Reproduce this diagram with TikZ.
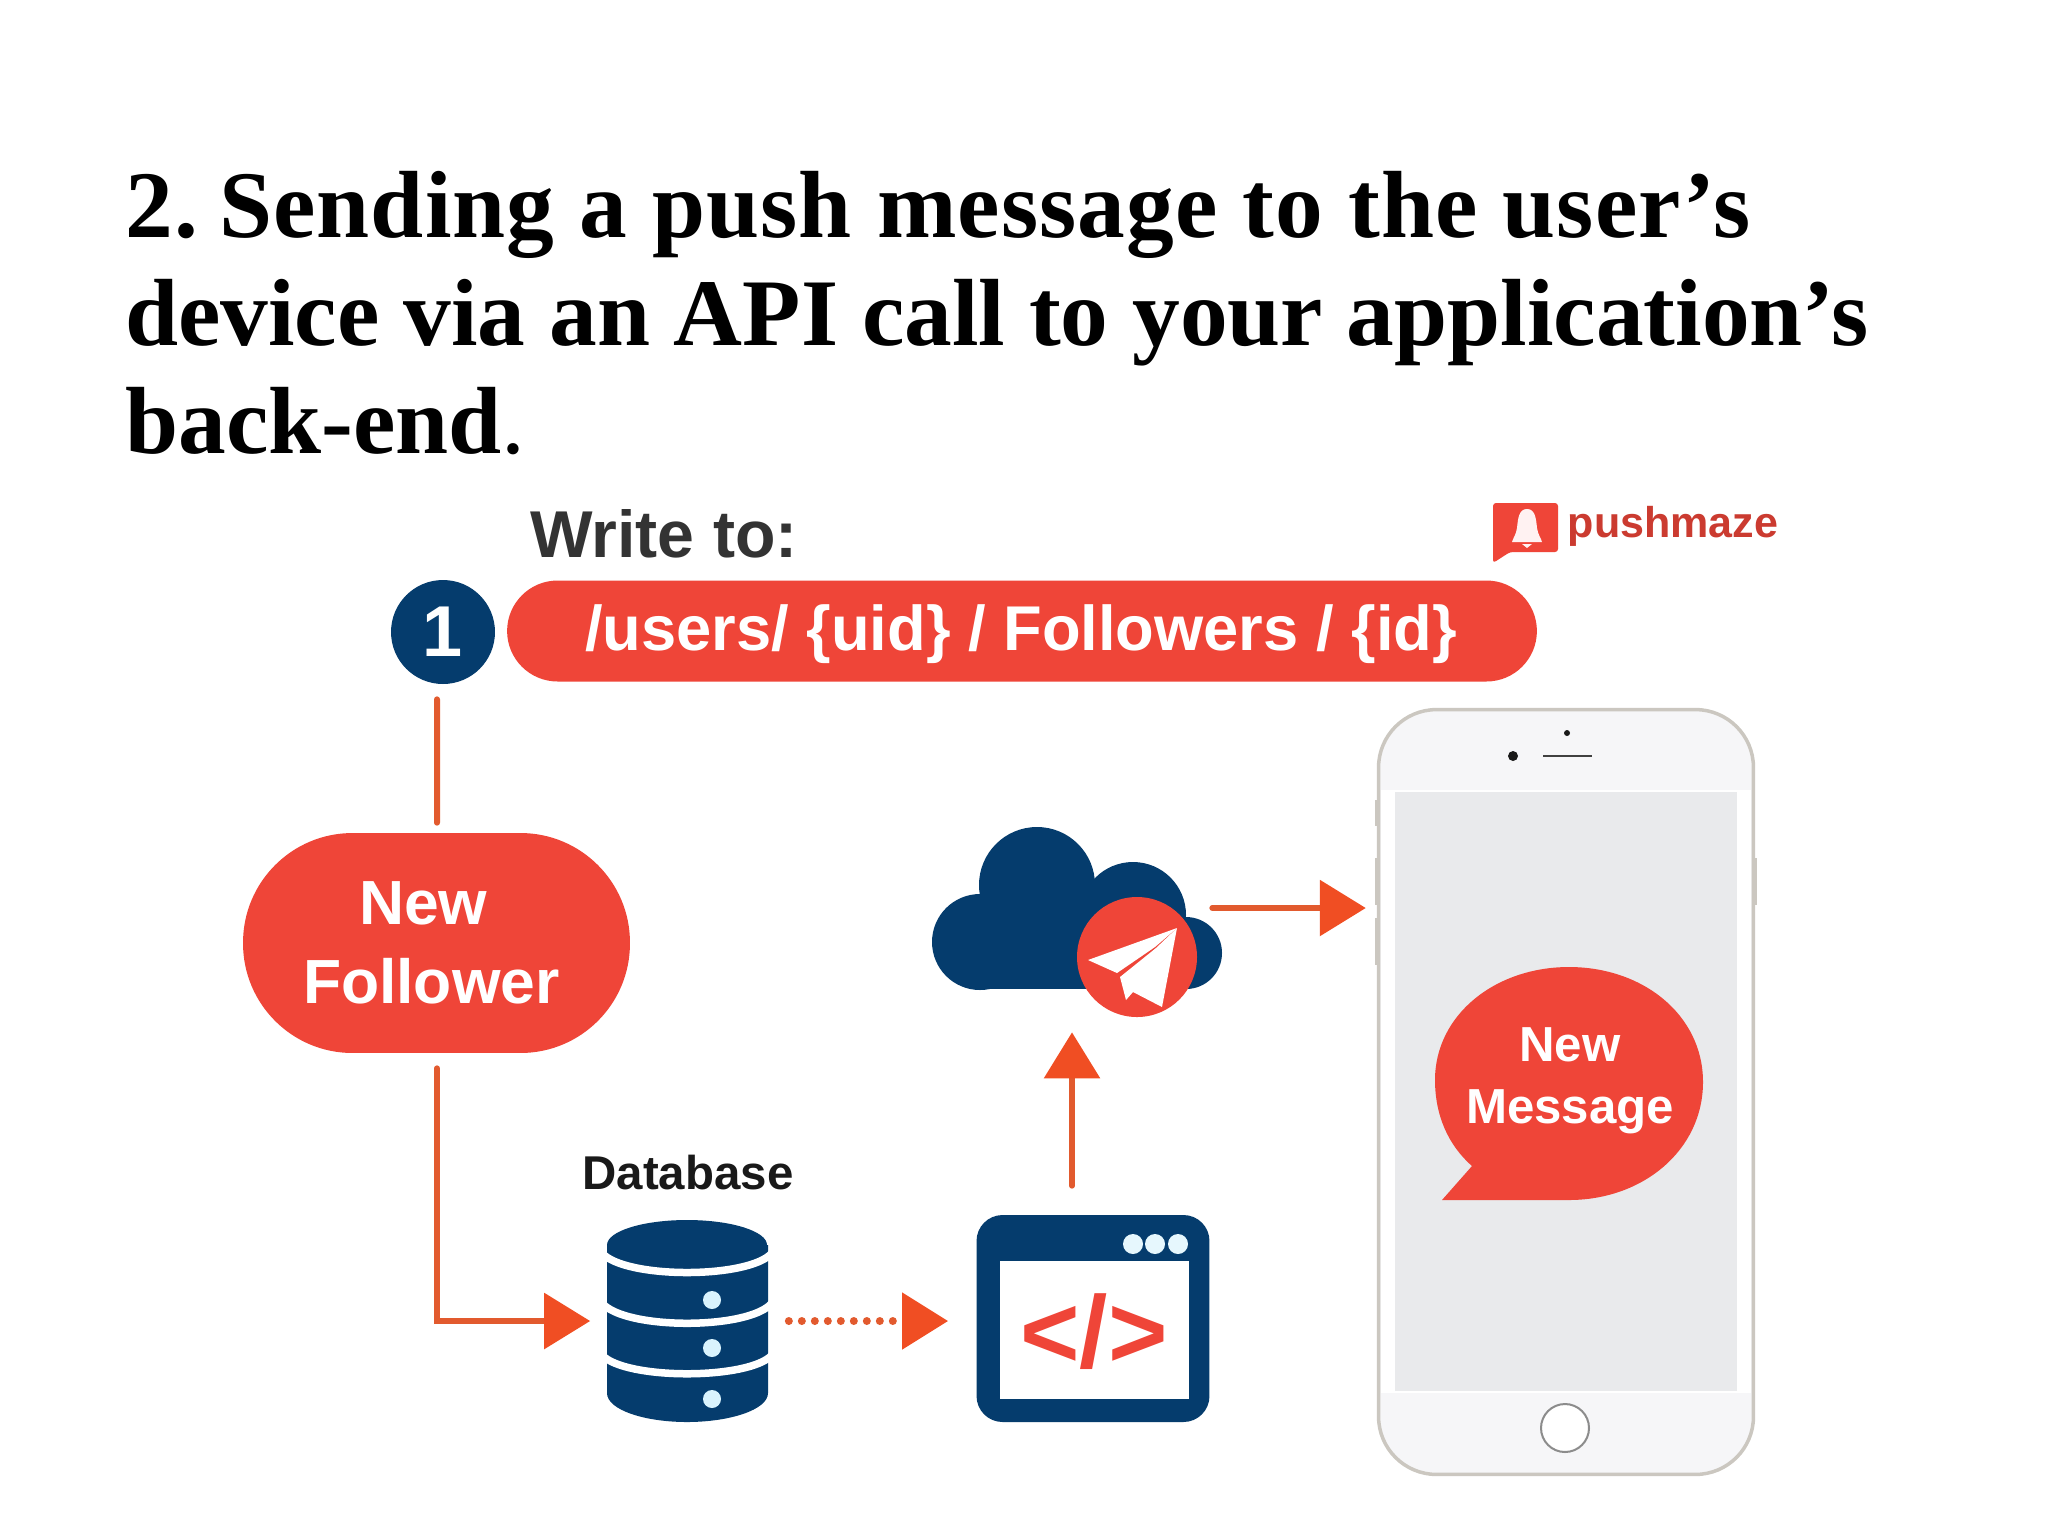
\documentclass[tikz,border=0pt]{standalone}
\usepackage{fontspec}
\setmainfont{Liberation Serif}
\setsansfont{Liberation Sans}
\usetikzlibrary{arrows.meta,calc}
\definecolor{navy}{HTML}{053C6D}
\definecolor{redfill}{HTML}{EF4538}
\definecolor{headcol}{HTML}{F04E23}
\definecolor{linecol}{HTML}{E25A2E}
\definecolor{screen}{HTML}{E9EAEC}
\definecolor{bezel}{HTML}{F6F6F8}
\definecolor{edge}{HTML}{CBC7C0}
\tikzset{
  px/.style={x=0.02cm,y=-0.02cm},
  conn/.style={draw=linecol,line width=0.12cm,line cap=round,
    -{Triangle[length=0.92cm,width=1.1cm,fill=headcol,color=headcol]}},
  plain/.style={draw=linecol,line width=0.12cm,line cap=round},
  dotconn/.style={conn,line width=0.16cm,dash pattern=on 0pt off 0.26cm},
  pillbox/.style={fill=redfill,text=white,inner sep=0pt,font=\sffamily\bfseries},
  label/.style={inner sep=0pt,font=\sffamily\bfseries},
  area/.style={inner sep=0pt},
}
\begin{document}
\begin{tikzpicture}[px]
\useasboundingbox (0,0) rectangle (2048,1536);
\fill[white] (0,0) rectangle (2048,1536);
% title
\node[anchor=north west,inner sep=0pt,align=left,font=\fontsize{54.3}{61.5}\selectfont] (title) at (125,171)
 {{\addfontfeature{LetterSpace=1.2}\textbf{2.\hspace{-7pt} Sending a push message to the user’s}}\\
  \textbf{device via an API call to your application’s}\\
  \textbf{back-end}.};
% top row
\node[label,text=black!80,font=\sffamily\bfseries\fontsize{37.7}{40}\selectfont] (write) at (664,534) {Write to:};
\node[circle,fill=navy,text=white,minimum size=2.08cm,inner sep=0pt,font=\sffamily\bfseries\fontsize{41}{44}\selectfont] (one) at (443,632) {1};
\node[pillbox,rounded corners=1.01cm,minimum width=20.6cm,minimum height=2.02cm] (path) at (1022,631) {};
\node[label,text=white,font=\sffamily\bfseries\fontsize{36}{40}\selectfont] (pathtext) at (1021,634) {/users/ \{uid\} / Followers / \{id\}};
% logo
\fill[redfill,rounded corners=0.06cm] (1493,503) -- (1558,503) -- (1558,552) -- (1510,552) -- (1493,563) -- cycle;
\fill[white!95!red] (1527,509) .. controls (1519,509) and (1518,518) .. (1517,528) .. controls (1516,535) and (1513,538) .. (1512,542) -- (1542,542) .. controls (1541,538) and (1538,535) .. (1537,528) .. controls (1536,518) and (1535,509) .. (1527,509) -- cycle;
\fill[white!95!red] (1522,544) -- (1532,544) -- (1527,548) -- cycle;
\node[label,text=redfill!85!black,font=\sffamily\bfseries\fontsize{24.5}{28}\selectfont] (brand) at (1673,526) {pushmaze};
% follower
\node[pillbox,rounded corners=2.19cm,minimum width=7.74cm,minimum height=4.4cm,align=center,font=\sffamily\bfseries\fontsize{35.5}{45}\selectfont] (follower) at (436.5,943) {New\hspace*{15pt}\\[0.2pt]Follower\hspace*{6pt}};
% database
\node[label,text=black!90,font=\sffamily\bfseries\fontsize{27}{30}\selectfont] (dblabel) at (688,1173) {Database};
\node[area,minimum width=3.22cm,minimum height=4.04cm] (db) at (687,1321) {};
\fill[navy] (607,1245) -- (607,1393) .. controls (607,1410) and (645,1422) .. (687,1422) .. controls (729,1422) and (768,1410) .. (768,1393) -- (768,1245) -- cycle;
\fill[navy] (687,1245) ellipse [x radius=80,y radius=25];
\foreach \ys/\yc in {1253/1279,1303/1330,1355/1380}{
  \draw[white,line width=0.15cm] (602,\ys) .. controls (625,\yc) and (749,\yc) .. (772,\ys);
}
\foreach \yy in {1300,1348,1399}{
  \fill[white!85!cyan] (712,\yy) circle [radius=9];
}
% code window
\node[area,fill=navy,rounded corners=0.52cm,minimum width=4.66cm,minimum height=4.14cm] (window) at (1093,1318.5) {};
\fill[white] (1000,1261) rectangle (1189,1399);
\foreach \xx in {1133,1155,1178}{
  \fill[white!90!cyan] (\xx,1244) circle [radius=10];
}
\node[inner sep=0pt,text=redfill,font=\sffamily\bfseries\fontsize{58}{60}\selectfont] (code) at (1094,1332) {</>};
% cloud
\node[area,minimum width=5.8cm,minimum height=3.8cm] (cloud) at (1077,922) {};
\fill[navy] (980,942) circle [radius=48];
\fill[navy] (1037,885) circle [radius=58];
\fill[navy] (1133,915) circle [radius=53];
\fill[navy] (1186,953) circle [radius=36];
\fill[navy] (980,920) rectangle (1186,989);
\fill[navy] (1037,885) rectangle (1133,950);
\fill[redfill] (1137,957) circle [radius=60];
\fill[white] (1177,928) -- (1088,960) -- (1117,973) -- (1155,947) -- cycle;
\fill[white] (1177,928) -- (1162,1007) -- (1133,992) -- (1126,1000) -- (1120,977) -- (1156,948) -- cycle;
% phone
\node[area,draw=edge,line width=0.07cm,fill=bezel,rounded corners=1.16cm,minimum width=7.5cm,minimum height=15.3cm] (phone) at (1566,1092) {};
\fill[white] (1381,790) rectangle (1395,1393);
\fill[white] (1737,790) rectangle (1751,1393);
\fill[edge] (1375,800) rectangle (1378,826);
\fill[edge] (1375,858) rectangle (1378,905);
\fill[edge] (1375,918) rectangle (1378,965);
\fill[edge] (1754,858) rectangle (1757,905);
\fill[screen] (1395,792) rectangle (1737,1391);
\draw[white,line width=0.04cm] (1395,791) -- (1737,791);
\draw[white,line width=0.04cm] (1395,1392) -- (1737,1392);
\fill[black!90] (1513,756) circle [radius=5];
\fill[black!90] (1567,733) circle [radius=3];
\draw[black!75,line width=0.05cm] (1543,756) -- (1592,756);
\draw[black!45,line width=0.04cm,fill=white] (1565,1428) circle [radius=24];
% bubble
\fill[redfill] (1442,1200) -- (1472,1166)
  .. controls (1448,1145) and (1435,1115) .. (1435,1080)
  .. controls (1435,1015) and (1495,967) .. (1569,967)
  .. controls (1643,967) and (1703,1015) .. (1703,1082)
  .. controls (1703,1150) and (1643,1200) .. (1569,1200) -- cycle;
\node[label,text=white,align=center,font=\sffamily\bfseries\fontsize{28}{35.5}\selectfont] (bubbletext) at (1570,1081) {New\\Message};
% connectors
\draw[plain] ($(one.south)+(-6,15)$) -- ($(follower.north)+(0.5,-10)$);
\draw[conn] ($(follower.south)+(0.5,15)$) |- ($(db.west)+(-16,0)$);
\draw[dotconn] ($(db.east)+(21,0)$) -- ($(window.west)+(-28,2.5)$);
\draw[conn] ($(window.north)+(-21,-29)$) -- ($(cloud.south)+(-5,15)$);
\draw[conn] ($(cloud.east)+(-10,-14)$) -- ($(phone.west)+(-11,-184)$);
\end{tikzpicture}
\end{document}
